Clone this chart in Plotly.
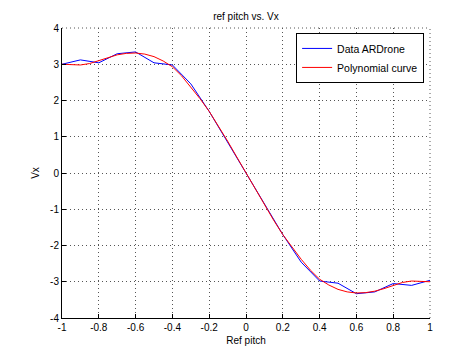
import plotly.graph_objects as go

x_data = [-1.0, -0.9, -0.8, -0.7, -0.6, -0.5, -0.4, -0.3, -0.2, -0.1, 0.0,
          0.1, 0.2, 0.3, 0.4, 0.5, 0.6, 0.7, 0.8, 0.9, 1.0]
vx_data = [3.0, 3.12, 3.04, 3.29, 3.34, 3.04, 2.98, 2.46, 1.7, 0.85, 0.0,
           -0.85, -1.7, -2.46, -2.98, -3.04, -3.33, -3.28, -3.05, -3.1, -2.96]

x_poly = [-1.0, -0.95, -0.9, -0.85, -0.8, -0.75, -0.7, -0.65, -0.6, -0.55, -0.5,
          -0.45, -0.4, -0.35, -0.3, -0.25, -0.2, -0.15, -0.1, -0.05, 0.0,
          0.05, 0.1, 0.15, 0.2, 0.25, 0.3, 0.35, 0.4, 0.45, 0.5,
          0.55, 0.6, 0.65, 0.7, 0.75, 0.8, 0.85, 0.9, 0.95, 1.0]
vx_poly = [3.0, 2.99, 2.98, 3.02, 3.1, 3.19, 3.26, 3.3, 3.31, 3.28, 3.21,
           3.09, 2.93, 2.68, 2.38, 2.05, 1.7, 1.3, 0.88, 0.44, 0.0,
           -0.44, -0.88, -1.3, -1.7, -2.05, -2.38, -2.68, -2.93, -3.09, -3.21,
           -3.28, -3.31, -3.3, -3.26, -3.19, -3.1, -3.02, -2.98, -2.99, -3.0]

x_ticks = [-1, -0.8, -0.6, -0.4, -0.2, 0, 0.2, 0.4, 0.6, 0.8, 1]
x_ticklabels = ["-1", "-0.8", "-0.6", "-0.4", "-0.2", "0", "0.2", "0.4", "0.6", "0.8", "1"]
y_ticks = [-4, -3, -2, -1, 0, 1, 2, 3, 4]
y_ticklabels = ["-4", "-3", "-2", "-1", "0", "1", "2", "3", "4"]

GRID_DASH = "1px,3px"
GRID_COLOR = "#555555"

fig = go.Figure()
fig.add_trace(go.Scatter(x=x_data, y=vx_data, mode="lines", name="Data ARDrone",
                         line=dict(color="#0000ff", width=1)))
fig.add_trace(go.Scatter(x=x_poly, y=vx_poly, mode="lines", name="Polynomial curve",
                         line=dict(color="#ff0000", width=1)))

axis_common = dict(showgrid=True, gridcolor=GRID_COLOR, griddash=GRID_DASH, gridwidth=1,
                   showline=True, linecolor="black", linewidth=1, ticks="inside",
                   ticklen=4, tickcolor="black", zeroline=False, automargin=False,
                   tickfont=dict(size=10, color="black"))

# dotted box edges at top and right (MATLAB grid at the limits)
fig.add_shape(type="line", xref="paper", yref="paper", x0=0, x1=1, y0=1, y1=1,
              line=dict(color=GRID_COLOR, width=1, dash=GRID_DASH), layer="below")
fig.add_shape(type="line", xref="paper", yref="paper", x0=1, x1=1, y0=0, y1=1,
              line=dict(color=GRID_COLOR, width=1, dash=GRID_DASH), layer="below")

fig.update_layout(
    width=474, height=355,
    margin=dict(l=54, r=52, t=20, b=45),
    paper_bgcolor="white", plot_bgcolor="white",
    font=dict(family="Liberation Sans, Arial, sans-serif", size=10, color="black"),
    title=dict(text="ref pitch vs. Vx", x=0.502, xanchor="center", y=0.977, yanchor="middle",
               font=dict(size=10), automargin=False),
    xaxis=dict(range=[-1, 1], tickvals=x_ticks, ticktext=x_ticklabels,
               title=dict(text="Ref pitch", standoff=4, font=dict(size=10)), **axis_common),
    yaxis=dict(range=[-4, 4], tickvals=y_ticks, ticktext=y_ticklabels,
               title=dict(text="Vx", standoff=8, font=dict(size=10)), **axis_common),
    legend=dict(x=0.984, y=0.983, xanchor="right", yanchor="top",
                bordercolor="black", borderwidth=1, bgcolor="white",
                font=dict(size=10.5), tracegroupgap=0),
    showlegend=True,
)

fig.write_html("out.html")
